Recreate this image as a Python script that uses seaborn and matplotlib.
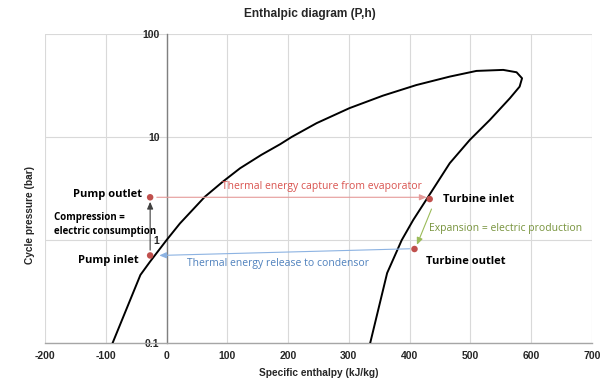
import matplotlib
matplotlib.use("Agg")
import matplotlib.pyplot as plt
import seaborn as sns
import pandas as pd

# ---- data ----
dome_h = [-89, -43, -27, 0, 22, 63, 93, 121, 156, 187, 206, 247, 301, 356, 411,
          466, 510, 554, 576, 585, 581, 565, 532, 499, 466, 436, 406, 387, 363, 335]
dome_p = [0.1, 0.46, 0.62, 1.0, 1.45, 2.63, 3.7, 4.97, 6.7, 8.5, 10, 13.6, 19, 25.1, 31.8,
          38.4, 43.6, 44.6, 42.3, 37, 30.7, 23.7, 14.6, 9.35, 5.56, 2.95, 1.57, 1.0, 0.48, 0.1]

state_names = ["Pump outlet", "Pump inlet", "Turbine inlet", "Turbine outlet"]
state_h = [-27, -27, 433, 408]
state_p = [2.6, 0.71, 2.5, 0.82]

x_ticks = [-200, -100, 0, 100, 200, 300, 400, 500, 600, 700]
y_ticks = [0.1, 1, 10, 100]
y_tick_labels = ["0.1", "1", "10", "100"]

title = "Enthalpic diagram (P,h)"
x_label = "Specific enthalpy (kJ/kg)"
y_label = "Cycle pressure (bar)"

sns.set_theme(style="white")
plt.rcParams["font.family"] = ["Liberation Sans", "DejaVu Sans"]

fig = plt.figure(figsize=(6.05, 3.87), dpi=100)
ax = fig.add_axes([0.0744, 0.1129, 0.904, 0.800])

dome = pd.DataFrame({"h": dome_h, "p": dome_p})
sns.lineplot(data=dome, x="h", y="p", sort=False, estimator=None, color="black",
             linewidth=1.4, ax=ax, zorder=3)

states = pd.DataFrame({"name": state_names, "h": state_h, "p": state_p})
sns.scatterplot(data=states, x="h", y="p", color="#c0504d", s=22, edgecolor="none",
                ax=ax, zorder=5)

ax.set_yscale("log")
ax.set_xlim(-200, 700)
ax.set_ylim(0.1, 100)
ax.set_xticks(x_ticks)
ax.set_xticklabels([str(t) for t in x_ticks])
ax.set_yticks(y_ticks)
ax.set_yticklabels(y_tick_labels)
ax.yaxis.set_minor_locator(matplotlib.ticker.NullLocator())

ax.grid(True, color="#d9d9d9", linewidth=0.8)
ax.set_axisbelow(True)
for s in ["top", "right"]:
    ax.spines[s].set_visible(False)
ax.spines["left"].set_position(("data", 0))
ax.spines["left"].set_color("#808080")
ax.spines["left"].set_linewidth(1.0)
ax.spines["bottom"].set_color("#a6a6a6")
ax.spines["bottom"].set_linewidth(1.0)
ax.tick_params(axis="x", direction="out", length=3, width=0.8, color="#a6a6a6",
               labelsize=7.5, pad=2.5)
ax.tick_params(axis="y", direction="out", length=4, width=0.8, color="#808080",
               labelsize=7.5, pad=1)
for lbl in ax.get_xticklabels() + ax.get_yticklabels():
    lbl.set_fontweight("bold")

ax.set_xlabel(x_label, fontsize=7.3, fontweight="bold", labelpad=5)
ax.set_ylabel("")
fig.text(0.050, 0.445, y_label, rotation=90, fontsize=7.3, fontweight="bold",
         ha="center", va="center")
fig.text(0.512, 0.963, title, fontsize=8.6, fontweight="bold", ha="center", va="center")

# ---- arrows ----
def arrow(x0, y0, x1, y1, color, lw=0.8):
    ax.annotate("", xy=(x1, y1), xytext=(x0, y0),
                arrowprops=dict(arrowstyle="-|>,head_length=0.35,head_width=0.15",
                                color=color, lw=lw, shrinkA=0, shrinkB=0), zorder=4)

arrow(-16, 2.6, 428, 2.6, "#e59a99")          # evaporator
arrow(436, 2.0, 412, 0.90, "#9bbb59")         # expansion
arrow(400, 0.824, -12, 0.71, "#8db3e2")       # condensor
arrow(-27, 0.80, -27, 2.35, "#404040")        # compression

# ---- texts ----
ofont = ["Open Sans", "DejaVu Sans"]
ax.text(256, 3.3, "Thermal energy capture from evaporator", color="#d9534f",
        fontsize=7.5, family=ofont, ha="center", va="center")
ax.text(184, 0.60, "Thermal energy release to condensor", color="#4f81bd",
        fontsize=7.5, family=ofont, ha="center", va="center")
ax.text(432, 1.3, "Expansion = electric production", color="#77933c",
        fontsize=7.5, family=ofont, ha="left", va="center")

bfont = dict(fontsize=8, fontweight="bold", family=ofont, color="black", va="center")
ax.text(-41, 2.75, "Pump outlet", ha="right", **bfont)
ax.text(-46, 0.64, "Pump inlet", ha="right", **bfont)
ax.text(455, 2.45, "Turbine inlet", ha="left", **bfont)
ax.text(427, 0.62, "Turbine outlet", ha="left", **bfont)
ax.text(-185, 1.42, "Compression =\nelectric consumption", ha="left", fontsize=7,
        fontweight="bold", family=ofont, color="black", va="center", linespacing=1.35)

fig.savefig("out.png", dpi=100)
